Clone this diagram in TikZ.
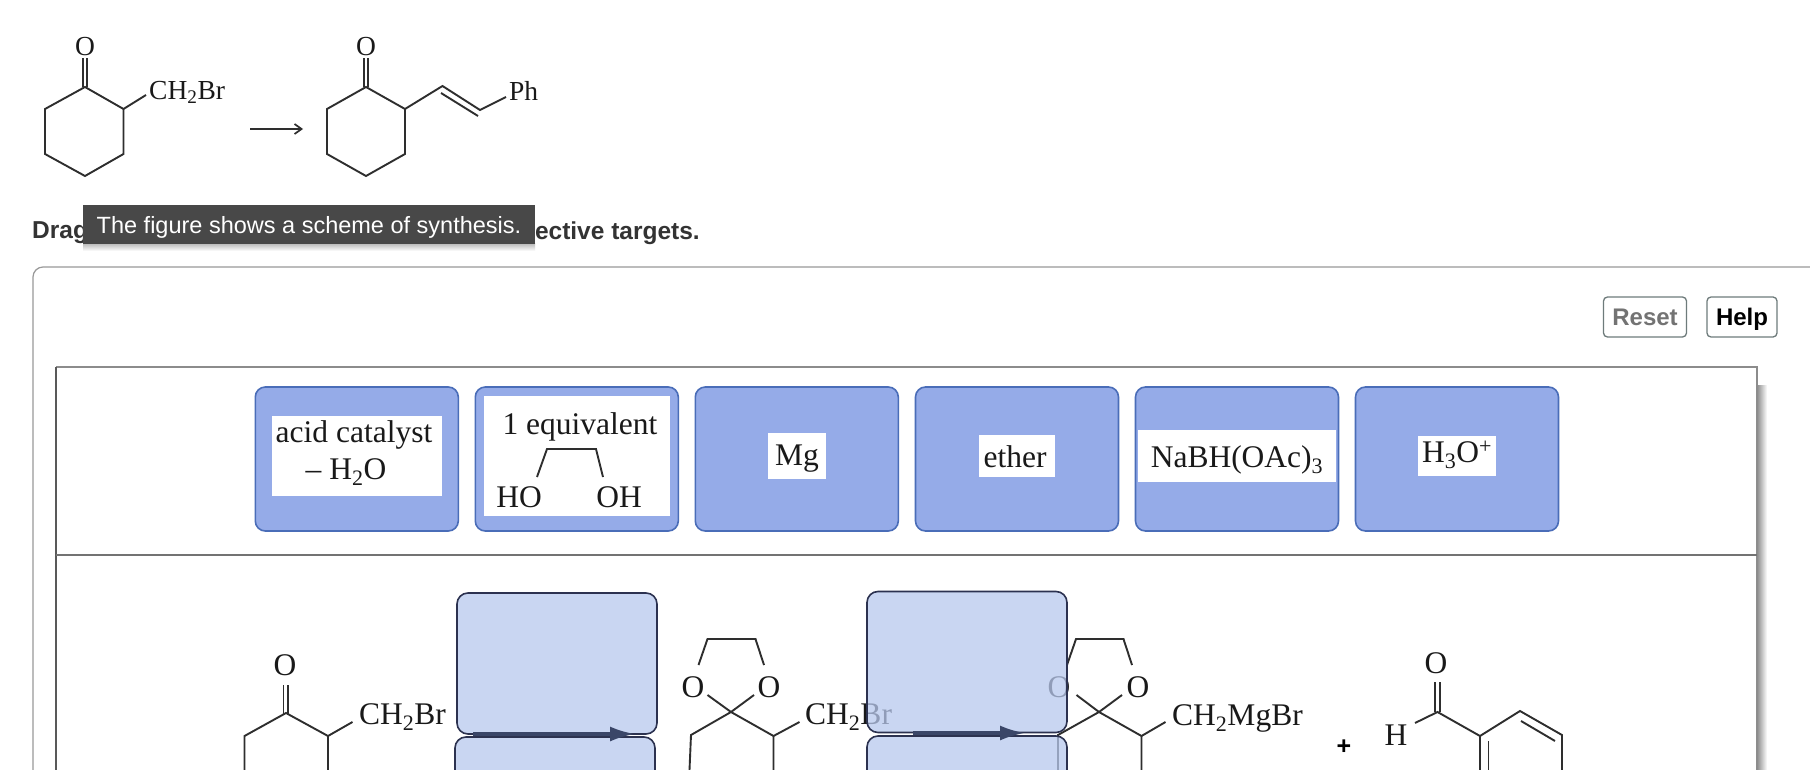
\documentclass[tikz,border=0pt]{standalone}
\usepackage{fontspec}
\usepackage{xcolor}
\setmainfont{Liberation Serif}
\setsansfont{Liberation Sans}
\usetikzlibrary{arrows.meta}
\definecolor{tilefill}{HTML}{95ABE8}
\definecolor{tileedge}{HTML}{4A6DB8}
\definecolor{zonefill}{HTML}{B8C9EE}
\definecolor{zoneedge}{HTML}{2C3250}
\definecolor{tipfill}{HTML}{484848}
\definecolor{btnedge}{HTML}{6E7B7B}
\definecolor{bondcol}{HTML}{2E2E2E}
\definecolor{arrowcol}{HTML}{3A4668}
\tikzset{
  bond/.style={draw=bondcol,line width=1.9pt},
  chemlbl/.style={inner sep=0pt,text=black!90,font=\fontsize{27.5}{27.5}\selectfont},
  bondlbl/.style={inner sep=0pt,text=black!90,font=\fontsize{31.5}{31.5}\selectfont},
  tilebox/.style={draw=tileedge,line width=1.6pt,fill=tilefill,rounded corners=10pt,minimum width=203pt,minimum height=144pt,inner sep=0pt},
  whitebox/.style={fill=white,inner sep=0pt},
  zonebox/.style={draw=zoneedge,line width=1.6pt,fill=zonefill,fill opacity=0.75,rounded corners=11pt,minimum width=200pt,minimum height=141pt,inner sep=0pt},
  btnbox/.style={draw=btnedge,line width=1.3pt,fill=white,rounded corners=4pt,inner sep=0pt,text height=21pt,text depth=5pt,font=\sffamily\bfseries\fontsize{24}{24}\selectfont},
  rxnarrow/.style={draw=arrowcol,line width=3.4pt,-{Latex[length=25pt,width=15pt]}},
}
\begin{document}
\begin{tikzpicture}[x=1pt,y=-1pt]
    \useasboundingbox (0,0) rectangle (1810,770);
    \clip (0,0) rectangle (1810,770);
    \fill[white] (0,0) rectangle (1810,770);
    % starting bromide
        \draw[bond] (85,87) -- (123.5,109) -- (123.5,154) -- (85,176) -- (45,154) -- (45,109) -- cycle;
        \draw[bond] (83,87) -- (83,58);
        \draw[bond] (87,87) -- (87,58);
        \draw[bond] (123.5,109) -- (146,95);
        \node[chemlbl] (topO) at (85,47) {O};
        \node[chemlbl,anchor=west] (topbr) at (149,92) {CH\textsubscript{2}Br};
        \coordinate (topfrom) at (250,129);
        \coordinate (topto) at (303,129);
        \draw[draw=bondcol,line width=1.7pt,-{Straight Barb[length=7pt,width=10pt]}] (topfrom) -- (topto);
    % styryl ketone
        \draw[bond] (366,87) -- (405,109) -- (405,154) -- (366,176) -- (327,154) -- (327,109) -- cycle;
        \draw[bond] (364,87) -- (364,58);
        \draw[bond] (368,87) -- (368,58);
        \draw[bond] (405,109) -- (442.5,86) -- (480,110) -- (506,97);
        \draw[bond] (441,93) -- (478,116);
        \node[chemlbl] (ketO) at (366,47) {O};
        \node[chemlbl,anchor=west] (ketph) at (509,91) {Ph};
    % instruction line and tooltip
        \node[anchor=west,inner sep=0pt,text=black!80,font=\sffamily\bfseries\fontsize{24.5}{24.5}\selectfont] (dragA) at (32,233) {Drag};
        \node[anchor=east,inner sep=0pt,text=black!80,font=\sffamily\bfseries\fontsize{24.5}{24.5}\selectfont] (dragB) at (700,233) {ective targets.};
        \fill[top color=black!25,bottom color=white] (83,244) rectangle (535,251);
        \node[fill=tipfill,text=white,inner sep=0pt,minimum width=452pt,minimum height=39pt,text height=22pt,text depth=5pt,font=\sffamily\fontsize{23.5}{23.5}\selectfont] (tooltip) at (309,225) {The figure shows a scheme of synthesis.};
    % outer and inner panels
        \draw[black!40,line width=1.2pt,rounded corners=10pt] (33,770) -- (33,267) -- (1815,267);
        \node[btnbox,minimum width=83pt,minimum height=40pt,text=black!55] (reset) at (1645,317) {Reset};
        \node[btnbox,minimum width=70pt,minimum height=40pt,text=black] (help) at (1742,317) {Help};
        \fill[left color=black!45,right color=white] (1757,385) rectangle (1767,770);
        \draw[black!45,line width=1.3pt] (1757,770) -- (1757,367) -- (56,367);
        \draw[black!65,line width=1.6pt] (56,367) -- (56,770);
        \draw[black!55,line width=1.5pt] (56,555) -- (1757,555);
    % answer tiles
        \node[tilebox] (tileA) at (356.8,459) {};
        \node[tilebox] (tileB) at (576.8,459) {};
        \node[tilebox] (tileC) at (796.8,459) {};
        \node[tilebox] (tileD) at (1017,459) {};
        \node[tilebox] (tileE) at (1237,459) {};
        \node[tilebox] (tileF) at (1457,459) {};
        \node[whitebox,minimum width=170pt,minimum height=80pt] (backA) at (357,456) {};
        \node[whitebox,minimum width=186pt,minimum height=120pt] (backB) at (577,456) {};
        \node[whitebox,minimum width=58pt,minimum height=46pt] (backC) at (797,456) {};
        \node[whitebox,minimum width=76pt,minimum height=42pt] (backD) at (1017,456) {};
        \node[whitebox,minimum width=198pt,minimum height=52pt] (backE) at (1237,456) {};
        \node[whitebox,minimum width=78pt,minimum height=40pt] (backF) at (1457,456) {};
        \node[bondlbl] (acid) at (354,435) {acid catalyst};
        \node[bondlbl] (water) at (346,472) {– H\textsubscript{2}O};
        \node[bondlbl] (equiv) at (580,427) {1 equivalent};
        \node[bondlbl] (diolL) at (519,497) {HO};
        \node[bondlbl] (diolR) at (619,497) {OH};
        \draw[bond] (537,477) -- (547,449) -- (596,449) -- (603,477);
        \node[bondlbl] (mg) at (797,459) {Mg};
        \node[bondlbl] (ether) at (1015,457) {ether};
        \node[bondlbl] (nabh) at (1237,460) {NaBH(OAc)\textsubscript{3}};
        \node[bondlbl] (hyd) at (1457,455) {H\textsubscript{3}O\textsuperscript{+}};
    % bottom row: bromoketone
        \draw[bond] (244.5,770) -- (244.5,736) -- (286,713) -- (328,736) -- (328,770);
        \draw[bond] (283.5,714) -- (283.5,685);
        \draw[bond] (288,714) -- (288,685);
        \draw[bond] (328,736) -- (352.5,722);
        \node[bondlbl] (rowO) at (285,665) {O};
        \node[bondlbl,anchor=west] (rowbr) at (359,717) {CH\textsubscript{2}Br};
    % bottom row: ketal bromide
        \draw[bond] (689.5,770) -- (691,735) -- (731,712) -- (773.5,736) -- (773.5,770);
        \draw[bond] (707.5,695) -- (731,712) -- (754,695);
        \draw[bond] (698.5,665) -- (707.5,639) -- (755.5,639) -- (764,665);
        \draw[bond] (773.5,736) -- (799.5,722);
        \node[bondlbl] (ketalL) at (693,687) {O};
        \node[bondlbl] (ketalR) at (769,687) {O};
        \node[bondlbl,anchor=west] (ketalbr) at (805,717) {CH\textsubscript{2}Br};
    % bottom row: grignard
        \draw[bond] (1058,770) -- (1058,735) -- (1099,712) -- (1141.5,736) -- (1141.5,770);
        \draw[bond] (1076.5,695) -- (1099,712) -- (1122,695);
        \draw[bond] (1067,665) -- (1076,639) -- (1123.5,639) -- (1132,665);
        \draw[bond] (1141.5,736) -- (1165.5,722);
        \node[bondlbl] (grigL) at (1059,687) {O};
        \node[bondlbl] (grigR) at (1138,687) {O};
        \node[bondlbl,anchor=west] (grigbr) at (1172,718) {CH\textsubscript{2}MgBr};
    % bottom row: benzaldehyde
        \node[inner sep=0pt,font=\sffamily\bfseries\fontsize{25}{25}\selectfont] (plus) at (1344,747) {+};
        \node[bondlbl] (ald) at (1396,735) {H};
        \node[bondlbl] (aldO) at (1436,663) {O};
        \draw[bond] (1415,723) -- (1437.5,712) -- (1480,736) -- (1520,711) -- (1562,735) -- (1562,770);
        \draw[bond] (1480,736) -- (1480,770);
        \draw[bond] (1435,712) -- (1435,682);
        \draw[bond] (1440,712) -- (1440,682);
        \draw[bond] (1521,721) -- (1555,741);
        \draw[bond] (1488.5,741) -- (1488.5,770);
    % drop targets and reaction arrows
        \node[zonebox] (zoneA) at (557,663.5) {};
        \node[zonebox] (zoneB) at (555,807.5) {};
        \node[zonebox] (zoneC) at (967,662) {};
        \node[zonebox] (zoneD) at (967,806.5) {};
        \coordinate (arrA) at (473,734);
        \coordinate (arrB) at (635,734);
        \coordinate (arrC) at (913,733);
        \coordinate (arrD) at (1025,733);
        \draw[rxnarrow] (arrA) -- (arrB);
        \draw[rxnarrow] (arrC) -- (arrD);
    \end{tikzpicture}
\end{document}
